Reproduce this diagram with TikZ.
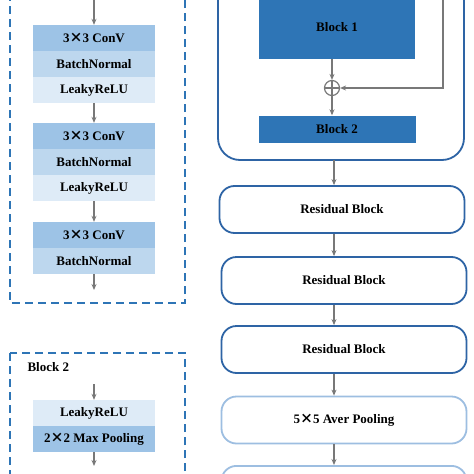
\documentclass[tikz,border=0pt]{standalone}
\usepackage{fontspec}
\setmainfont{Liberation Serif}
\newfontfamily\cjkx{Noto Sans CJK SC}
\newcommand{\bigx}{{\cjkx\char"00D7}}
\usetikzlibrary{arrows.meta}
\definecolor{convc}{RGB}{157,195,230}
\definecolor{bnc}{RGB}{189,215,238}
\definecolor{lrc}{RGB}{222,235,247}
\definecolor{darkb}{RGB}{46,117,182}
\definecolor{bord}{RGB}{46,100,165}
\definecolor{lightb}{RGB}{157,190,225}
\definecolor{arrg}{RGB}{120,120,120}
\tikzset{
  lay/.style={minimum width=122pt, minimum height=26pt, inner sep=0pt, font=\fontsize{13}{13}\selectfont\bfseries},
  conv/.style={lay, fill=convc},
  bn/.style={lay, fill=bnc},
  lr/.style={lay, fill=lrc},
  dblk/.style={inner sep=0pt, fill=darkb, font=\fontsize{13}{13}\selectfont\bfseries},
  rblk/.style={draw=bord, line width=1.8pt, rounded corners=15pt, minimum width=245pt, minimum height=47pt, inner sep=0pt, font=\fontsize{13}{13}\selectfont\bfseries},
  lblk/.style={rblk, draw=lightb},
  arr/.style={draw=arrg, line width=1.2pt, -{Stealth[length=6pt,width=5pt]}},
  dbox/.style={draw=darkb, line width=2pt, dash pattern=on 8pt off 5pt},
  x=1pt, y=-1pt
}
\begin{document}
\begin{tikzpicture}
\useasboundingbox (0,0) rectangle (474,474);
\path[clip] (0,0) rectangle (474,474);
\fill[white] (0,0) rectangle (474,474);
% left dashed boxes
\draw[dbox] (10,-20) rectangle (185,303);
\draw[dbox] (10,353) rectangle (185,500);
\node[font=\fontsize{13}{13}\selectfont\bfseries, anchor=west] (b2lab) at (24,367) {Block 2};
% group 1
\coordinate (ltop) at (94,-2);
\node[conv] (c1) at (94,38) {3\bigx3 ConV};
\node[bn] (n1) at (94,64) {BatchNormal};
\node[lr] (r1) at (94,90) {LeakyReLU};
\node[conv] (c2) at (94,136) {3\bigx3 ConV};
\node[bn] (n2) at (94,162) {BatchNormal};
\node[lr] (r2) at (94,188) {LeakyReLU};
\node[conv] (c3) at (94,235) {3\bigx3 ConV};
\node[bn] (n3) at (94,261) {BatchNormal};
\coordinate (lbot) at (94,290);
\draw[arr] (ltop) -- (c1.north);
\draw[arr] (r1.south) -- (c2.north);
\draw[arr] (r2.south) -- (c3.north);
\draw[arr] (n3.south) -- (lbot);
% block 2 group
\coordinate (b2top) at (94,384);
\node[lr] (r4) at (94,413) {LeakyReLU};
\node[conv] (m4) at (94,439) {2\bigx2 Max Pooling};
\coordinate (b2bot) at (94,466);
\draw[arr] (b2top) -- (r4.north);
\draw[arr] (m4.south) -- (b2bot);
% right outer box
\draw[bord, line width=1.8pt, rounded corners=22pt] (218,-60) rectangle (464,160);
\node[dblk, minimum width=156pt, minimum height=63pt] (blk1) at (337,27) {Block 1};
\node[dblk, minimum width=157pt, minimum height=27pt] (blk2) at (337,129) {Block 2};
\node[circle, draw=arrg, line width=1.2pt, minimum size=15pt, inner sep=0pt,
  path picture={\draw[arrg, line width=1.2pt] (path picture bounding box.north) -- (path picture bounding box.south) (path picture bounding box.west) -- (path picture bounding box.east);}] (plus) at (332,88) {};
\coordinate (skiptop) at (443,-5);
\draw[arr] (blk1.south -| plus) -- (plus.north);
\draw[arr] (plus.south) -- (blk2.north -| plus);
\draw[arr] (skiptop) -- (443,88) -- (plus.east);
% right column
\coordinate (obot) at (334,160);
\node[rblk] (res1) at (342,209.5) {Residual Block};
\node[rblk] (res2) at (344,280.5) {Residual Block};
\node[rblk] (res3) at (344,349.5) {Residual Block};
\node[lblk] (avg) at (344,420) {5\bigx5 Aver Pooling};
\node[lblk, anchor=north] (last) at (344,465) {};
\draw[arr] (obot) -- (res1.north -| obot);
\draw[arr] (res1.south -| obot) -- (res2.north -| obot);
\draw[arr] (res2.south -| obot) -- (res3.north -| obot);
\draw[arr] (res3.south -| obot) -- (avg.north -| obot);
\draw[arr] (avg.south -| obot) -- (last.north -| obot);
\end{tikzpicture}
\end{document}
